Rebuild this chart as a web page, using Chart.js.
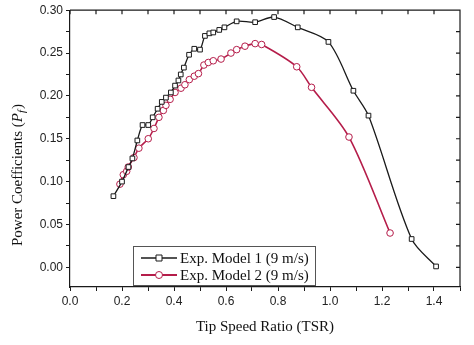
<!DOCTYPE html>
<html>
<head>
<meta charset="utf-8">
<script src="https://cdn.jsdelivr.net/npm/chart.js@4.4.1/dist/chart.umd.min.js"></script>
<style>
  html, body { margin: 0; padding: 0; background: #fff; }
  #wrap { width: 474px; height: 345px; }
</style>
</head>
<body>
<div id="wrap"><canvas id="chart" width="474" height="345"></canvas></div>
<script>
// Exp. Model 1 (9 m/s) - black squares
const tsr1 = [0.167, 0.2, 0.225, 0.24, 0.259, 0.279, 0.301, 0.318, 0.337, 0.353, 0.369, 0.388, 0.404, 0.417,
  0.426, 0.438, 0.458, 0.478, 0.5, 0.519, 0.536, 0.551, 0.574, 0.594, 0.641, 0.712, 0.785, 0.876, 0.994,
  1.09, 1.148, 1.314, 1.408];
const cp1 = [0.083, 0.1, 0.117, 0.127, 0.148, 0.166, 0.166, 0.175, 0.185, 0.193, 0.198, 0.204, 0.212, 0.218,
  0.225, 0.233, 0.248, 0.255, 0.254, 0.27, 0.273, 0.274, 0.277, 0.28, 0.287, 0.286, 0.292, 0.28, 0.263,
  0.206, 0.177, 0.033, 0.001];

// Exp. Model 2 (9 m/s) - red circles
const tsr2 = [0.192, 0.205, 0.218, 0.224, 0.246, 0.265, 0.301, 0.323, 0.342, 0.359, 0.369, 0.385, 0.404,
  0.427, 0.442, 0.459, 0.478, 0.494, 0.515, 0.532, 0.551, 0.581, 0.619, 0.641, 0.673, 0.712, 0.737, 0.872,
  0.929, 1.073, 1.231];
const cp2 = [0.097, 0.108, 0.112, 0.117, 0.128, 0.139, 0.15, 0.162, 0.175, 0.183, 0.189, 0.196, 0.204,
  0.209, 0.213, 0.219, 0.223, 0.226, 0.236, 0.239, 0.241, 0.243, 0.25, 0.254, 0.258, 0.261, 0.26, 0.234,
  0.21, 0.152, 0.04];

const seriesLabels = ['Exp. Model 1 (9 m/s)', 'Exp. Model 2 (9 m/s)'];
const xTicks = [0, 0.1, 0.2, 0.3, 0.4, 0.5, 0.6, 0.7, 0.8, 0.9, 1.0, 1.1, 1.2, 1.3, 1.4, 1.5];
const yTicks = [0, 0.025, 0.05, 0.075, 0.1, 0.125, 0.15, 0.175, 0.2, 0.225, 0.25, 0.275, 0.3];

const BLACK = '#1a1a1a';
const RED = '#b51d4a';
const serif = '"Liberation Serif", "DejaVu Serif", serif';
const sans = '"Liberation Sans", Arial, sans-serif';

function pts(xs, ys) {
  return xs.map((x, i) => ({ x: x, y: ys[i] }));
}

// top/right frame, their inward ticks, the legend box and the y title
const extras = {
  id: 'extras',
  afterDraw(chart) {
    const ctx = chart.ctx;
    const a = chart.chartArea;
    const sx = chart.scales.x, sy = chart.scales.y;
    ctx.save();
    ctx.strokeStyle = BLACK;
    ctx.lineWidth = 1.2;
    ctx.beginPath();
    ctx.moveTo(a.left, a.top); ctx.lineTo(a.right, a.top); ctx.lineTo(a.right, a.bottom);
    xTicks.forEach(v => {
      const px = sx.getPixelForValue(v);
      ctx.moveTo(px, a.top); ctx.lineTo(px, a.top + 4);
    });
    yTicks.forEach(v => {
      const py = sy.getPixelForValue(v);
      ctx.moveTo(a.right, py); ctx.lineTo(a.right - 4, py);
    });
    ctx.stroke();

    // legend
    const lx = 133, ly = 246, lw = 182, lh = 39;
    ctx.lineWidth = 1;
    ctx.strokeStyle = '#555';
    ctx.fillStyle = '#fff';
    ctx.fillRect(lx, ly, lw, lh);
    ctx.strokeRect(lx + 0.5, ly + 0.5, lw, lh);
    const rows = [
      { y: ly + 12, color: BLACK, shape: 'rect' },
      { y: ly + 29, color: RED, shape: 'circle' }
    ];
    rows.forEach((r, i) => {
      ctx.strokeStyle = r.color;
      ctx.lineWidth = i === 0 ? 1.3 : 2;
      ctx.beginPath();
      ctx.moveTo(lx + 8, r.y); ctx.lineTo(lx + 44, r.y);
      ctx.stroke();
      ctx.fillStyle = '#fff';
      ctx.lineWidth = 1;
      ctx.beginPath();
      if (r.shape === 'rect') {
        ctx.rect(lx + 23, r.y - 3, 6, 6);
      } else {
        ctx.arc(lx + 26, r.y, 3.5, 0, Math.PI * 2);
      }
      ctx.fill(); ctx.stroke();
      ctx.fillStyle = '#111';
      ctx.font = '15px ' + serif;
      ctx.textBaseline = 'middle';
      ctx.textAlign = 'left';
      ctx.fillText(seriesLabels[i], lx + 47, r.y + 1);
    });

    // y axis title with italic P and subscript f
    ctx.translate(18, 175);
    ctx.rotate(-Math.PI / 2);
    ctx.fillStyle = '#111';
    ctx.textBaseline = 'middle';
    const part1 = 'Power Coefficients (';
    ctx.font = '15px ' + serif;
    const w1 = ctx.measureText(part1).width;
    ctx.font = 'italic 15px ' + serif;
    const wp = ctx.measureText('P').width;
    ctx.font = 'italic 11px ' + serif;
    const wf = ctx.measureText('f').width;
    ctx.font = '15px ' + serif;
    const w3 = ctx.measureText(')').width;
    let x0 = -(w1 + wp + wf + w3 + 1) / 2;
    ctx.textAlign = 'left';
    ctx.fillText(part1, x0, 0); x0 += w1;
    ctx.font = 'italic 15px ' + serif;
    ctx.fillText('P', x0, 0); x0 += wp;
    ctx.font = 'italic 11px ' + serif;
    ctx.fillText('f', x0, 4); x0 += wf + 1;
    ctx.font = '15px ' + serif;
    ctx.fillText(')', x0, 0);
    ctx.restore();
  }
};

new Chart(document.getElementById('chart'), {
  type: 'scatter',
  data: {
    datasets: [
      {
        label: seriesLabels[0],
        data: pts(tsr1, cp1),
        showLine: true,
        borderColor: BLACK,
        borderWidth: 1.3,
        tension: 0.3,
        pointStyle: 'rect',
        pointRadius: 3.3,
        pointBorderWidth: 1,
        pointBackgroundColor: '#fff',
        pointBorderColor: BLACK
      },
      {
        label: seriesLabels[1],
        data: pts(tsr2, cp2),
        showLine: true,
        borderColor: RED,
        borderWidth: 1.6,
        tension: 0.3,
        pointStyle: 'circle',
        pointRadius: 3.3,
        pointBorderWidth: 1,
        pointBackgroundColor: '#fff',
        pointBorderColor: RED
      }
    ]
  },
  options: {
    responsive: false,
    animation: false,
    layout: { padding: { top: 7, right: 14, left: 0, bottom: 0 } },
    plugins: {
      legend: { display: false },
      tooltip: { enabled: false }
    },
    scales: {
      x: {
        type: 'linear',
        min: 0, max: 1.5,
        afterBuildTicks: axis => { axis.ticks = xTicks.map(v => ({ value: v })); },
        afterFit: axis => { axis.height = 58; },
        border: { display: true, color: BLACK, width: 1.2 },
        grid: { drawOnChartArea: false, drawTicks: true, tickLength: 4, color: BLACK },
        ticks: {
          autoSkip: false,
          maxRotation: 0,
          padding: 3,
          color: '#222',
          font: { family: sans, size: 12 },
          callback: v => (Math.round(v * 10) % 2 === 0 && v < 1.45) ? v.toFixed(1) : ''
        },
        title: {
          display: true,
          text: 'Tip Speed Ratio (TSR)',
          color: '#111',
          font: { family: serif, size: 15 },
          padding: { top: 4, bottom: 9 }
        }
      },
      y: {
        type: 'linear',
        min: -0.023, max: 0.3,
        afterBuildTicks: axis => { axis.ticks = yTicks.map(v => ({ value: v })); },
        afterFit: axis => { axis.width = 70; },
        border: { display: true, color: BLACK, width: 1.2 },
        grid: { drawOnChartArea: false, drawTicks: true, tickLength: 4, color: BLACK },
        ticks: {
          autoSkip: false,
          padding: 3,
          color: '#222',
          font: { family: sans, size: 12 },
          callback: v => (Math.round(v * 1000) % 50 === 0) ? v.toFixed(2) : ''
        }
      }
    }
  },
  plugins: [extras]
});
</script>
</body>
</html>
